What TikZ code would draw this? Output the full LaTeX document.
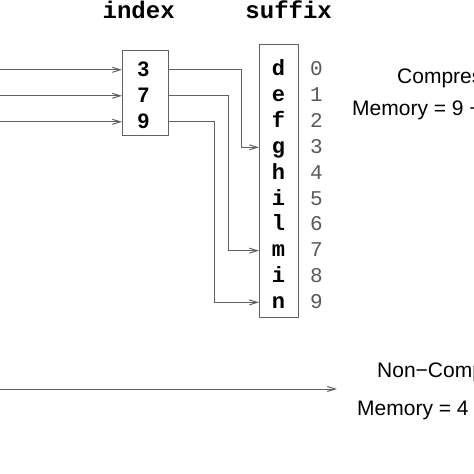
\documentclass[tikz,border=0pt]{standalone}
\usepackage{fontspec}
\setmainfont{Liberation Sans}
\newfontfamily\mono{Liberation Mono}
\usetikzlibrary{arrows.meta}
\definecolor{lineg}{gray}{0.38}
\definecolor{numg}{gray}{0.35}
\begin{document}
\begin{tikzpicture}[x=1pt,y=-1pt,
  line/.style={draw=lineg, line width=1pt},
  arr/.style={line, -{Straight Barb[length=8pt,width=5pt]}},
  hdr/.style={font=\mono\bfseries\fontsize{24}{24}\selectfont, anchor=base, inner sep=0pt},
  let/.style={font=\mono\bfseries\fontsize{22}{22}\selectfont, anchor=base, text height=12pt, text depth=0pt, inner sep=0pt},
  num/.style={font=\mono\fontsize{21}{21}\selectfont, text=numg, anchor=base west, inner sep=0pt},
  idx/.style={font=\bfseries\fontsize{21}{21}\selectfont, anchor=base, text height=12.4pt, text depth=0pt, inner sep=0pt},
  lbl/.style={font=\fontsize{21}{21}\selectfont, anchor=base west, inner sep=0pt},
  boxst/.style={line, anchor=north west, inner sep=0pt}]
\useasboundingbox (0,0) rectangle (474,474);
\clip (0,0) rectangle (474,474);
\fill[white] (0,0) rectangle (474,474);

% headers
\node[hdr] (hidx) at (138.7,18.5) {index};
\node[hdr] (hsuf) at (288.7,18.5) {suffix};

% index box
\node[boxst, minimum width=46pt, minimum height=85pt] (ix) at (122,50) {};
\node[idx] (i3) at (143.5,76) {3};
\node[idx] (i7) at (143.5,102) {7};
\node[idx] (i9) at (143.5,128) {9};

% suffix box
\node[boxst, minimum width=39pt, minimum height=273pt] (sx) at (259,44) {};
\foreach \c [count=\k from 0] in {d,e,f,g,h,i,l,m,i,n} {
  \node[let] (s\k) at (278.5,{75.8+25.84*\k}) {\c};
  \node[num] (n\k) at (310,{75.8+25.84*\k}) {\k};
}

% incoming arrows from the left
\coordinate (lft) at (-3,0);
\draw[arr] (lft |- i3) -- (ix.west |- i3);
\draw[arr] (lft |- i7) -- (ix.west |- i7);
\draw[arr] (lft |- i9) -- (ix.west |- i9);

% index -> suffix connectors
\draw[arr] (ix.east |- i3) -- ++(72,0) |- (sx.west |- s3);
\draw[arr] (ix.east |- i7) -- ++(59,0) |- (sx.west |- s7);
\draw[arr] (ix.east |- i9) -- ++(45,0) |- (sx.west |- s9);

% right labels
\node[lbl] (comp) at (397,83) {Compres};
\node[lbl] (mem9) at (352,115) {Memory = 9 +};

% bottom
\coordinate (b0) at (-3,389);
\coordinate (b1) at (337,389);
\draw[arr] (b0) -- (b1);
\node[lbl] (ncomp) at (377,377) {Non−Comp};
\node[lbl] (mem4) at (357,415) {Memory = 4};
\end{tikzpicture}
\end{document}
